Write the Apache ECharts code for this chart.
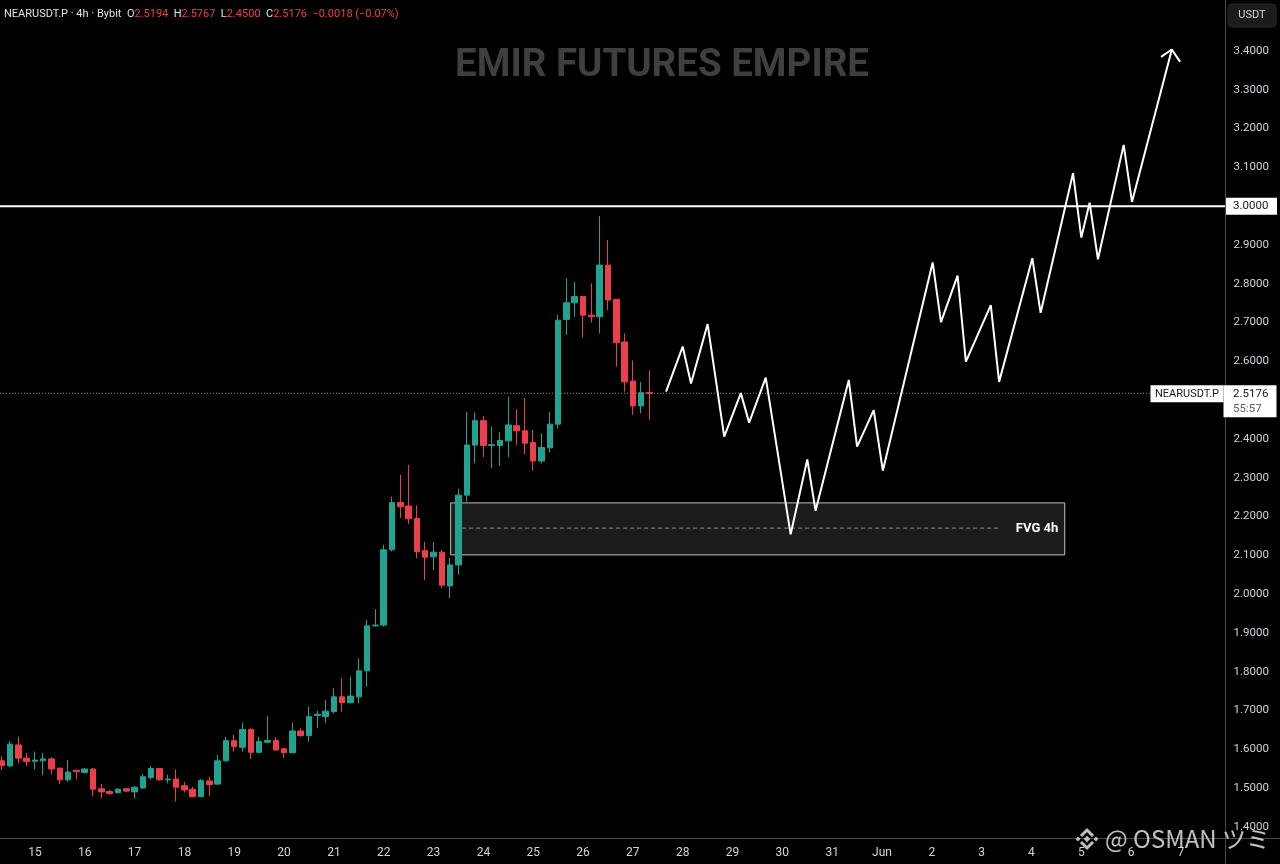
<!DOCTYPE html>
<html><head><meta charset="utf-8">
<script src="https://cdn.jsdelivr.net/npm/echarts@6/dist/echarts.min.js"></script>
<style>html,body{margin:0;padding:0;background:#000;}#c{width:1280px;height:864px;}</style>
</head><body><div id="c"></div>
<script>
// ---- data (4h candles, NEARUSDT.P, Bybit) ----
const opens  = [1.570,1.557,1.611,1.577,1.569,1.570,1.575,1.551,1.521,1.546,1.540,1.549,1.498,1.491,1.488,1.498,1.490,1.500,1.527,1.550,1.521,1.523,1.506,1.497,1.478,1.518,1.510,1.570,1.622,1.605,1.651,1.592,1.618,1.623,1.601,1.591,1.647,1.635,1.687,1.684,1.697,1.735,1.720,1.735,1.802,1.918,1.920,2.114,2.236,2.227,2.195,2.112,2.096,2.108,2.021,2.075,2.255,2.384,2.447,2.383,2.383,2.395,2.434,2.421,2.391,2.343,2.377,2.438,2.708,2.751,2.767,2.719,2.715,2.848,2.760,2.650,2.549,2.485,2.5194];
const highs  = [1.582,1.621,1.632,1.590,1.594,1.591,1.579,1.553,1.572,1.547,1.551,1.551,1.510,1.495,1.499,1.500,1.505,1.536,1.557,1.551,1.534,1.548,1.516,1.503,1.523,1.529,1.585,1.632,1.637,1.668,1.654,1.632,1.686,1.631,1.602,1.668,1.654,1.710,1.699,1.727,1.757,1.783,1.787,1.834,1.933,1.961,2.127,2.251,2.307,2.333,2.229,2.135,2.135,2.114,2.093,2.272,2.470,2.468,2.459,2.431,2.418,2.509,2.476,2.505,2.423,2.414,2.470,2.720,2.814,2.805,2.769,2.801,2.975,2.913,2.760,2.672,2.602,2.547,2.5767];
const lows   = [1.546,1.554,1.564,1.557,1.548,1.533,1.535,1.510,1.516,1.522,1.538,1.478,1.473,1.482,1.486,1.490,1.473,1.498,1.521,1.519,1.512,1.465,1.488,1.476,1.476,1.479,1.508,1.568,1.594,1.594,1.574,1.589,1.615,1.596,1.577,1.589,1.632,1.619,1.654,1.667,1.692,1.697,1.718,1.718,1.761,1.916,1.916,2.110,2.196,2.180,2.092,2.036,2.062,2.015,1.990,2.050,2.238,2.337,2.353,2.324,2.330,2.353,2.384,2.361,2.318,2.337,2.365,2.427,2.668,2.715,2.662,2.700,2.672,2.732,2.586,2.522,2.462,2.466,2.4500];
const closes = [1.558,1.613,1.577,1.568,1.572,1.575,1.549,1.521,1.541,1.542,1.549,1.497,1.490,1.486,1.497,1.492,1.502,1.529,1.550,1.521,1.523,1.502,1.495,1.478,1.519,1.509,1.570,1.622,1.607,1.651,1.592,1.620,1.623,1.598,1.591,1.647,1.635,1.684,1.690,1.698,1.735,1.720,1.737,1.802,1.918,1.920,2.114,2.236,2.225,2.194,2.109,2.095,2.108,2.023,2.075,2.255,2.384,2.447,2.383,2.385,2.396,2.436,2.421,2.389,2.343,2.378,2.438,2.706,2.751,2.767,2.719,2.715,2.848,2.758,2.648,2.547,2.485,2.519,2.5176];

// time axis: 4h slots, day labels at 00:00
const dayLabels = ['15','16','17','18','19','20','21','22','23','24','25','26','27','28','29','30','31','Jun','2','3','4','5','6','7'];
const firstDayIndex = 4;
const barsPerDay = 6;
const slotCount = 148;
const priceTicks = [1.4,1.5,1.6,1.7,1.8,1.9,2.0,2.1,2.2,2.3,2.4,2.5,2.6,2.7,2.8,2.9,3.0,3.1,3.2,3.3,3.4];

// projected path (slot index, price)
const pathX = [80.0,82.0,83.0,85.0,87.0,89.0,90.0,92.0,95.0,97.0,98.0,102.0,103.0,105.0,106.1,112.1,113.1,115.1,116.1,119.1,120.1,124.1,125.1,129.0,130.0,131.0,132.0,135.1,136.1,140.9];
const pathY = [2.522,2.638,2.543,2.696,2.406,2.518,2.442,2.558,2.154,2.347,2.215,2.552,2.380,2.474,2.318,2.855,2.701,2.821,2.599,2.745,2.547,2.866,2.725,3.085,2.919,3.009,2.863,3.158,3.011,3.404];
const arrowX = [139.6,140.9,141.9];
const arrowY = [3.385,3.404,3.372];

// FVG 4h zone
const fvgX = [54.06,128.0];
const fvgY = [2.101,2.235];
const fvgMid = 2.170;
const fvgMidX = [54.6,120.0];

const keyLevel = 3.0;
const countdown = '55:57';

// ---- build ----
const categories = Array.from({length: slotCount}, (_, i) => 'slot' + i);
const candleData = opens.map((o, i) => [o, closes[i], lows[i], highs[i]]);
const last = opens.length - 1;
const lastClose = closes[last];
const chg = closes[last] - opens[last];
const chgPct = chg / opens[last] * 100;
const fmt = v => v.toFixed(4);
const minus = v => (v < 0 ? '\u2212' : '+');

const UP = '#22a38f', DOWN = '#eb3f4b';
const FONT = 'Roboto, "Liberation Sans", sans-serif';

const chart = echarts.init(document.getElementById('c'), null, {renderer: 'canvas'});

const option = {
  backgroundColor: '#000000',
  animation: false,
  textStyle: {fontFamily: FONT},
  grid: {left: 1.7, right: 57.5, top: 0, bottom: 25.5, containLabel: false},
  xAxis: [
    {
      type: 'category', data: categories, boundaryGap: false,
      axisLine: {show: false}, axisTick: {show: false}, splitLine: {show: false},
      axisLabel: {
        color: '#d1d4dc', fontSize: 12, margin: 8, fontFamily: FONT,
        interval: (i) => i >= firstDayIndex && (i - firstDayIndex) % barsPerDay === 0,
        formatter: (v, i) => dayLabels[(i - firstDayIndex) / barsPerDay] || ''
      }
    },
    {type: 'value', min: 0, max: slotCount - 1, show: false}
  ],
  yAxis: {
    type: 'value', position: 'right', min: 1.3698, max: 3.5315, scale: true,
    axisLine: {show: false}, axisTick: {show: false}, splitLine: {show: false},
    axisLabel: {
      customValues: priceTicks, color: '#d1d4dc', fontSize: 11.5, margin: 11, fontFamily: FONT,
      formatter: v => fmt(v)
    }
  },
  series: [
    {
      type: 'line', xAxisIndex: 1, yAxisIndex: 0, z: 1, symbol: 'none', silent: true,
      data: [[fvgMidX[0], fvgMid], [fvgMidX[1], fvgMid]],
      lineStyle: {color: '#8c8c8c', width: 1, type: [4, 3]},
      markArea: {
        silent: true,
        itemStyle: {color: '#1c1c1c', borderColor: '#c0c0c0', borderWidth: 1},
        label: {show: true, position: 'insideRight', distance: 7, color: '#ffffff', fontWeight: 'bold', fontSize: 13, fontFamily: FONT, formatter: 'FVG 4h'},
        data: [[{xAxis: fvgX[0], yAxis: fvgY[1]}, {xAxis: fvgX[1], yAxis: fvgY[0]}]]
      }
    },
    {
      type: 'candlestick', xAxisIndex: 0, yAxisIndex: 0, z: 3, barWidth: 6, clip: false,
      data: candleData,
      itemStyle: {color: UP, color0: DOWN, borderColor: UP, borderColor0: DOWN, borderWidth: 1}
    },
    {
      type: 'line', xAxisIndex: 1, yAxisIndex: 0, z: 5, symbol: 'none', silent: true,
      data: pathX.map((x, i) => [x, pathY[i]]),
      lineStyle: {color: '#ffffff', width: 2}
    },
    {
      type: 'line', xAxisIndex: 1, yAxisIndex: 0, z: 5, symbol: 'none', silent: true,
      data: arrowX.map((x, i) => [x, arrowY[i]]),
      lineStyle: {color: '#ffffff', width: 2}
    }
  ]
};
chart.setOption(option);

// overlay decorations positioned via the chart's own scales
const yKey = chart.convertToPixel({yAxisIndex: 0}, keyLevel);
const yLast = chart.convertToPixel({yAxisIndex: 0}, lastClose);
const axisX = 1225;

const legendText =
  '{w|NEARUSDT.P · 4h · Bybit  O}{r|' + fmt(opens[last]) + '}{w|  H}{r|' + fmt(highs[last]) +
  '}{w|  L}{r|' + fmt(lows[last]) + '}{w|  C}{r|' + fmt(closes[last]) + '}{r|  ' +
  minus(chg) + Math.abs(chg).toFixed(4) + ' (' + minus(chg) + Math.abs(chgPct).toFixed(2) + '%)}';

const g = [];
// horizontal level lines across the whole pane
g.push({type: 'line', silent: true, z: 4, shape: {x1: 0, y1: yLast, x2: axisX, y2: yLast}, style: {stroke: '#8e8e8e', lineWidth: 1, lineDash: [1, 2]}});
g.push({type: 'line', silent: true, z: 4, shape: {x1: 0, y1: yKey, x2: axisX, y2: yKey}, style: {stroke: '#ffffff', lineWidth: 2}});
// panel separators
g.push({type: 'line', silent: true, z: 10, shape: {x1: axisX + 0.5, y1: 0, x2: axisX + 0.5, y2: 864}, style: {stroke: '#4a4a4a', lineWidth: 1}});
g.push({type: 'line', silent: true, z: 10, shape: {x1: 0, y1: 838.5, x2: 1280, y2: 838.5}, style: {stroke: '#4a4a4a', lineWidth: 1}});
// currency button
g.push({type: 'rect', silent: true, z: 10, shape: {x: 1228, y: 4, width: 48, height: 23, r: 4}, style: {fill: '#1b1b1b', stroke: '#2a2a2a'}});
g.push({type: 'text', silent: true, z: 11, x: 1252, y: 15.5, style: {text: 'USDT', fill: '#d1d4dc', font: '11px ' + FONT, textAlign: 'center', textVerticalAlign: 'middle'}});
// legend
g.push({type: 'text', silent: true, z: 11, x: 4, y: 14, style: {
  text: legendText, textVerticalAlign: 'middle', font: '11px ' + FONT,
  rich: {w: {fill: '#e0e3eb', color: '#e0e3eb', fontSize: 11, fontFamily: FONT}, r: {fill: '#e2444f', color: '#e2444f', fontSize: 11, fontFamily: FONT}}
}});
// watermark
g.push({type: 'text', silent: true, z: 0, x: 662, y: 66, style: {text: 'EMIR FUTURES EMPIRE', fill: '#3f3f3f', font: 'bold 38.5px ' + FONT, textAlign: 'center', textVerticalAlign: 'middle'}});
// key level label
g.push({type: 'rect', silent: true, z: 12, shape: {x: axisX + 1, y: yKey - 8.5, width: 51, height: 17}, style: {fill: '#ffffff'}});
g.push({type: 'text', silent: true, z: 13, x: axisX + 8, y: yKey, style: {text: fmt(keyLevel), fill: '#131722', font: '11.5px ' + FONT, textVerticalAlign: 'middle'}});
// last price labels
g.push({type: 'rect', silent: true, z: 12, shape: {x: 1150.5, y: yLast - 8, width: 73, height: 17}, style: {fill: '#ffffff'}});
g.push({type: 'text', silent: true, z: 13, x: 1187, y: yLast + 0.5, style: {text: 'NEARUSDT.P', fill: '#131722', font: '11px ' + FONT, textAlign: 'center', textVerticalAlign: 'middle'}});
g.push({type: 'rect', silent: true, z: 12, shape: {x: axisX - 1.5, y: yLast - 8, width: 53, height: 32}, style: {fill: '#ffffff'}});
g.push({type: 'text', silent: true, z: 13, x: axisX + 8, y: yLast + 0.5, style: {text: fmt(lastClose), fill: '#131722', font: '11.5px ' + FONT, textVerticalAlign: 'middle'}});
g.push({type: 'text', silent: true, z: 13, x: axisX + 8, y: yLast + 16, style: {text: countdown, fill: '#555a66', font: '11.5px ' + FONT, textVerticalAlign: 'middle'}});
// author watermark (logo + name)
const lc = [1087, 839];
const dia = (cx, cy, s) => ({type: 'polygon', silent: true, z: 20, shape: {points: [[cx, cy - s], [cx + s, cy], [cx, cy + s], [cx - s, cy]]}, style: {fill: 'rgba(225,225,225,0.85)'}});
g.push(dia(lc[0], lc[1], 3.2));
g.push(dia(lc[0] - 9, lc[1], 2.4));
g.push(dia(lc[0] + 9, lc[1], 2.4));
g.push({type: 'polyline', silent: true, z: 20, shape: {points: [[lc[0] - 6, lc[1] - 3], [lc[0], lc[1] - 9], [lc[0] + 6, lc[1] - 3]]}, style: {stroke: 'rgba(225,225,225,0.85)', lineWidth: 3, fill: null}});
g.push({type: 'polyline', silent: true, z: 20, shape: {points: [[lc[0] - 6, lc[1] + 3], [lc[0], lc[1] + 9], [lc[0] + 6, lc[1] + 3]]}, style: {stroke: 'rgba(225,225,225,0.85)', lineWidth: 3, fill: null}});
g.push({type: 'text', silent: true, z: 20, x: 1105, y: 839, style: {text: '@ OSMAN ツミ', fill: 'rgba(225,225,225,0.85)', font: '24px "Noto Sans CJK JP", "Noto Sans", sans-serif', textVerticalAlign: 'middle'}});

chart.setOption({graphic: g});
</script>
</body></html>
